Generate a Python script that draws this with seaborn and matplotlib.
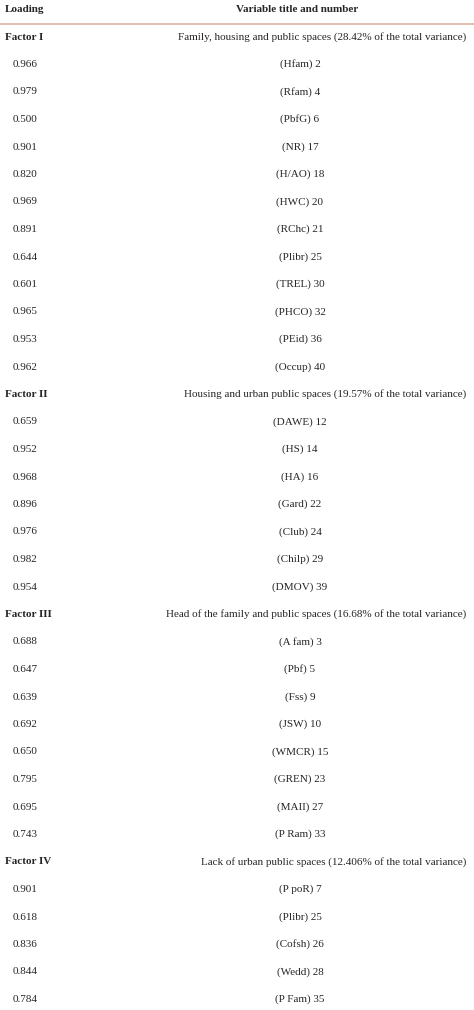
import matplotlib
matplotlib.use("Agg")
import matplotlib.pyplot as plt
import seaborn as sns

sns.set_theme(style="white")
plt.rcParams["font.family"] = ["Liberation Serif", "DejaVu Serif"]

factores = ["Factor I", "Factor II", "Factor III", "Factor IV"]
titulos = [
    "Family, housing and public spaces (28.42% of the total variance)",
    "Housing and urban public spaces (19.57% of the total variance)",
    "Head of the family and public spaces (16.68% of the total variance)",
    "Lack of urban public spaces (12.406% of the total variance)",
]
cargas = [
    ["0.966", "0.979", "0.500", "0.901", "0.820", "0.969", "0.891", "0.644", "0.601", "0.965", "0.953", "0.962"],
    ["0.659", "0.952", "0.968", "0.896", "0.976", "0.982", "0.954"],
    ["0.688", "0.647", "0.639", "0.692", "0.650", "0.795", "0.695", "0.743"],
    ["0.901", "0.618", "0.836", "0.844", "0.784"],
]
variables = [
    ["(Hfam) 2", "(Rfam) 4", "(PbfG) 6", "(NR) 17", "(H/AO) 18", "(HWC) 20", "(RChc) 21",
     "(Plibr) 25", "(TREL) 30", "(PHCO) 32", "(PEid) 36", "(Occup) 40"],
    ["(DAWE) 12", "(HS) 14", "(HA) 16", "(Gard) 22", "(Club) 24", "(Chilp) 29", "(DMOV) 39"],
    ["(A fam) 3", "(Pbf) 5", "(Fss) 9", "(JSW) 10", "(WMCR) 15", "(GREN) 23", "(MAII) 27", "(P Ram) 33"],
    ["(P poR) 7", "(Plibr) 25", "(Cofsh) 26", "(Wedd) 28", "(P Fam) 35"],
]

W, H = 474, 1010
fig = plt.figure(figsize=(W / 100, H / 100), dpi=100)
ax = fig.add_axes([0, 0, 1, 1])
ax.set_xlim(0, W)
ax.set_ylim(H, 0)
ax.axis("off")

fs = 8
ax.text(5, 10, "Loading", fontsize=fs, fontweight="bold", va="center", ha="left")
ax.text(297, 10, "Variable title and number", fontsize=fs, fontweight="bold", va="center", ha="center")
ax.plot([0, W], [24, 24], color="#d9b3a6", lw=1.2)

y = 37
paso = 27.5
for f, t, cs, vs in zip(factores, titulos, cargas, variables):
    ax.text(5, y, f, fontsize=fs, fontweight="bold", va="center", ha="left")
    ax.text(466, y, t, fontsize=fs, va="center", ha="right")
    y += paso
    for c, v in zip(cs, vs):
        ax.text(13, y, c, fontsize=fs, va="center", ha="left")
        ax.text(300, y, v, fontsize=fs, va="center", ha="center")
        y += paso

fig.savefig("out.png", dpi=100, facecolor="white")
